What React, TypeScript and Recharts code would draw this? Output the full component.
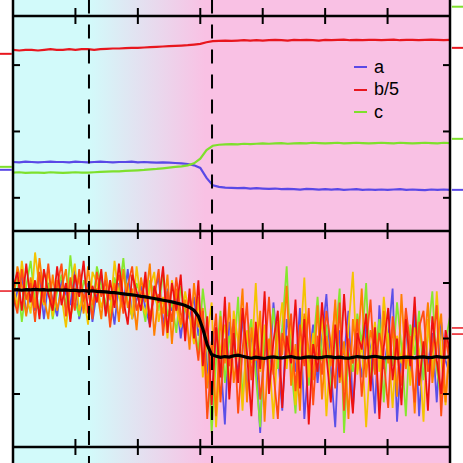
import { LineChart, Line, XAxis, YAxis, ReferenceLine, Legend } from 'recharts'

// upper panel, sampled every 0.1 on [0, 7]
const aVals = [
  0.54, 0.535, 0.545, 0.54, 0.535, 0.54, 0.545, 0.54, 0.54, 0.535,
  0.545, 0.54, 0.535, 0.54, 0.545, 0.54, 0.535, 0.54, 0.54, 0.545,
  0.535, 0.54, 0.535, 0.53, 0.535, 0.53, 0.525, 0.52, 0.51, 0.49,
  0.45, 0.3, 0.19, 0.165, 0.155, 0.15, 0.145, 0.15, 0.14, 0.145,
  0.14, 0.135, 0.14, 0.13, 0.135, 0.13, 0.125, 0.135, 0.13, 0.125,
  0.13, 0.125, 0.13, 0.12, 0.125, 0.13, 0.12, 0.125, 0.12, 0.125,
  0.12, 0.125, 0.13, 0.12, 0.125, 0.12, 0.115, 0.125, 0.12, 0.125, 0.12,
]
const bVals = [
  2.23, 2.22, 2.23, 2.23, 2.22, 2.23, 2.24, 2.23, 2.23, 2.24,
  2.23, 2.24, 2.24, 2.23, 2.24, 2.245, 2.25, 2.25, 2.255, 2.26,
  2.26, 2.265, 2.27, 2.275, 2.28, 2.285, 2.29, 2.295, 2.3, 2.31,
  2.32, 2.345, 2.36, 2.365, 2.37, 2.365, 2.37, 2.375, 2.37, 2.375,
  2.37, 2.375, 2.38, 2.375, 2.37, 2.38, 2.375, 2.38, 2.375, 2.37,
  2.38, 2.375, 2.38, 2.385, 2.375, 2.38, 2.375, 2.38, 2.38, 2.375,
  2.38, 2.385, 2.375, 2.38, 2.38, 2.375, 2.38, 2.385, 2.38, 2.375, 2.38,
]
const cVals = [
  0.38, 0.385, 0.375, 0.38, 0.38, 0.375, 0.385, 0.38, 0.375, 0.38,
  0.385, 0.38, 0.38, 0.385, 0.39, 0.395, 0.4, 0.4, 0.405, 0.41,
  0.415, 0.42, 0.43, 0.435, 0.445, 0.455, 0.465, 0.475, 0.49, 0.52,
  0.59, 0.72, 0.785, 0.8, 0.805, 0.81, 0.805, 0.815, 0.81, 0.815,
  0.82, 0.815, 0.82, 0.825, 0.815, 0.82, 0.825, 0.82, 0.83, 0.825,
  0.82, 0.825, 0.83, 0.82, 0.825, 0.83, 0.825, 0.82, 0.825, 0.83,
  0.825, 0.82, 0.83, 0.825, 0.82, 0.825, 0.83, 0.825, 0.82, 0.83, 0.825,
]

// lower panel: six runs + their mean, 100 samples on [0, 7]
const runBlue = [
  31, 37, 43, 29, 36, 30, 42, 27, 40, 34,
  28, 41, 36, 32, 45, 27, 35, 40, 26, 37,
  43, 30, 36, 25, 40, 32, 45, 27, 34, 39,
  31, 25, 37, 42, 24, 38, 30, 35, 20, 33,
  27, 35, 21, 29, 10, -4, 24, 13, -11, 26,
  18, 7, 29, 0, 21, 14, -14, 24, 5, 33,
  15, -6, 27, 19, 8, 31, -9, 12, 25, 4,
  20, 36, 9, -12, 23, 14, 30, -5, 17, 6,
  25, 16, -7, 32, 9, 20, 38, -10, 14, 24,
  6, 29, -8, 17, 10, 22, -3, 26, 12, 7,
]
const runGreen = [
  35, 42, 26, 39, 48, 33, 30, 44, 39, 27,
  37, 43, 31, 50, 34, 28, 41, 37, 30, 46,
  39, 33, 27, 42, 36, 49, 32, 28, 40, 35,
  26, 41, 36, 30, 44, 28, 33, 22, 39, 30,
  34, 26, 15, 38, 24, -14, 12, 30, 4, 21,
  13, 35, -2, 18, 27, 7, -12, 22, 16, 31,
  9, 24, 46, 11, -7, 20, 28, 3, 17, 35,
  12, 25, 0, 19, 38, -14, 15, 8, 29, 18,
  40, 4, 13, 27, -3, 22, 10, 33, 17, -8,
  25, 14, 30, 5, 21, 37, 9, -2, 19, 28,
]
const runGold = [
  40, 31, 48, 36, 29, 51, 38, 32, 45, 28,
  41, 35, 24, 39, 47, 30, 36, 25, 44, 40,
  31, 38, 29, 48, 35, 30, 40, 27, 46, 33,
  29, 38, 44, 26, 35, 20, 41, 31, 24, 37,
  28, 18, 35, 6, 21, 33, -12, 16, 25, 2,
  30, 19, -6, 23, 11, 40, 8, 25, 14, -9,
  20, 33, 9, 27, -4, 15, 42, 6, 22, 12,
  28, -8, 17, 31, 10, 1, 24, 44, 7, 19,
  -12, 14, 26, 8, 35, 18, -5, 21, 11, 30,
  3, 24, 16, -10, 27, 8, 37, 13, -4, 22,
]
const runOrange = [
  33, 46, 39, 28, 42, 31, 49, 35, 27, 43,
  30, 38, 45, 27, 36, 42, 29, 46, 32, 38,
  27, 44, 34, 40, 26, 45, 31, 38, 23, 42,
  33, 47, 21, 36, 29, 43, 18, 38, 25, 34,
  16, 40, 24, 31, 2, 19, -8, 28, 11, 33,
  4, 17, 38, -3, 24, 12, 30, -10, 20, 7,
  26, 14, 39, 3, 18, -6, 29, 16, 5, 32,
  -2, 21, 10, 34, 4, 19, -9, 27, 13, 38,
  6, 23, 15, -5, 30, 11, 24, -1, 36, 9,
  21, -7, 26, 14, 33, 4, 18, 29, -3, 20,
]
const runVermilion = [
  36, 29, 45, 34, 40, 26, 44, 33, 47, 31,
  39, 47, 28, 42, 30, 45, 34, 38, 27, 44,
  35, 41, 24, 37, 43, 29, 39, 46, 30, 36,
  40, 28, 35, 45, 21, 37, 26, 42, 29, 23,
  36, 25, 12, 30, -9, 14, 29, -3, 20, 10,
  27, -7, 16, 33, 5, 24, -2, 13, 35, 8,
  -9, 22, 14, 29, 1, 25, 10, 31, -4, 21,
  7, 30, 18, 2, 33, -6, 20, 11, 27, -1,
  18, 34, 7, 22, 12, -5, 28, 15, 3, 31,
  17, -3, 24, 30, 8, 16, 32, -8, 20, 11,
]
const runRed = [
  38, 44, 30, 47, 33, 41, 27, 45, 36, 30,
  46, 32, 40, 26, 43, 35, 48, 29, 39, 33,
  45, 28, 41, 31, 47, 34, 25, 43, 37, 30,
  44, 24, 39, 33, 46, 22, 40, 30, 43, 19,
  38, 20, 41, 10, 28, -4, 24, 6, 35, -2,
  22, 4, 31, 15, -8, 26, 9, 37, 0, 19,
  30, -5, 21, 11, 34, 2, 27, -11, 18, 8,
  33, 14, -3, 25, 6, 36, 12, -7, 22, 16,
  29, 1, 24, -9, 17, 31, 5, 20, -4, 27,
  10, 35, 3, 19, -6, 28, 12, 0, 23, 15,
]
const runMean = [
  37.5, 37.6, 37.4, 37.6, 37.5, 37.7, 37.5, 37.6, 37.4, 37.5,
  37.5, 37.4, 37.5, 37.3, 37.4, 37.2, 37.3, 37.1, 37.2, 37.0,
  36.9, 36.8, 36.6, 36.5, 36.3, 36.1, 35.9, 35.7, 35.5, 35.2,
  35.0, 34.7, 34.4, 34.1, 33.8, 33.5, 33.2, 32.8, 32.4, 31.9,
  31.2, 30.2, 28.0, 23.5, 17.8, 14.2, 13.6, 13.2, 13.5, 13.3,
  13.8, 14.0, 13.6, 13.2, 12.9, 13.3, 13.0, 12.8, 13.2, 13.4,
  13.1, 13.0, 13.3, 13.5, 13.1, 12.9, 13.2, 13.4, 13.3, 13.0,
  13.2, 13.5, 13.4, 13.1, 13.3, 13.0, 12.9, 13.2, 13.5, 13.3,
  13.1, 13.4, 13.6, 13.3, 13.0, 13.2, 13.1, 12.9, 13.1, 13.3,
  13.2, 13.0, 13.3, 13.4, 13.1, 13.2, 13.5, 13.3, 13.2, 13.4,
]

const xTicks = [1, 2, 3, 4, 5, 6]
const upperTicks = [0, 1, 2]
const lowerTicks = [0, 20, 40]
const guides = [1.217, 3.188]

// bits of neighbouring panels' curves poking in at the edges
const upperStubsLeft = [2.17, 0.467, 0.422]
const upperStubsRight = [2.26, 0.889, 0.12, 2.88]
const lowerStubsLeft = [37.1]
const lowerStubsRight = [23.8, 21.6]

const BLUE = '#5a48e6'
const RED = '#e8161e'
const GREEN = '#7ee02c'

const upperRows = aVals.map((a, i) => ({ x: i * 0.1, a, b: bVals[i], c: cVals[i] }))
const lowerRows = runMean.map((m, i) => ({
  x: (i * 7) / 99,
  blue: runBlue[i],
  green: runGreen[i],
  gold: runGold[i],
  orange: runOrange[i],
  vermilion: runVermilion[i],
  red: runRed[i],
  mean: m,
}))

const runs = [
  { key: 'blue', color: '#5b50e8' },
  { key: 'green', color: '#86e82e' },
  { key: 'gold', color: '#f4c400' },
  { key: 'orange', color: '#ff7f00' },
  { key: 'vermilion', color: '#ff4d12' },
  { key: 'red', color: '#ee1111' },
]

const crossTick = (p: any) => (
  <line x1={p.x} x2={p.x} y1={p.y - 8} y2={p.y + 8} stroke="#000" strokeWidth={2} />
)
const leftTick = (p: any) => (
  <line x1={p.x} x2={p.x + 7} y1={p.y} y2={p.y} stroke="#000" strokeWidth={2} />
)
const rightTick = (p: any) => (
  <line x1={p.x - 7} x2={p.x} y1={p.y} y2={p.y} stroke="#000" strokeWidth={2} />
)

const axisLine = { stroke: '#000', strokeWidth: 2.5 }

const renderLegend = (props: any) => (
  <div style={{ fontFamily: '"Liberation Sans", Arial, sans-serif', fontSize: 18, color: '#000' }}>
    {props.payload.map((p: any) => (
      <div key={p.value} style={{ display: 'flex', alignItems: 'center', height: 22.5 }}>
        <span style={{ display: 'inline-block', width: 13, height: 2, background: p.color, marginRight: 7 }} />
        {p.value}
      </div>
    ))}
  </div>
)

export default function App() {
  return (
    <div style={{ position: 'absolute', left: 0, top: 0, width: 463, height: 463, background: '#fff' }}>
      <div
        style={{
          position: 'absolute',
          left: 13,
          top: 0,
          width: 437,
          height: 463,
          background: 'linear-gradient(to right, #d2fafa 0px, #d2fafa 76px, #f9c1e4 192px, #f9c1e4 100%)',
        }}
      />

      <div style={{ position: 'absolute', left: 0, top: 0 }}>
        <LineChart width={463} height={240} data={upperRows} margin={{ top: 0, right: 0, bottom: 0, left: 0 }}>
          <XAxis xAxisId="top" orientation="top" type="number" dataKey="x" domain={[0, 7]} allowDataOverflow
            ticks={xTicks} interval={0} height={16} tickSize={0} tickMargin={0} tickLine={false}
            axisLine={axisLine} tick={crossTick} />
          <XAxis xAxisId="bottom" orientation="bottom" type="number" dataKey="x" domain={[0, 7]} allowDataOverflow
            ticks={xTicks} interval={0} height={9} tickSize={0} tickMargin={0} tickLine={false}
            axisLine={axisLine} tick={crossTick} />
          <YAxis yAxisId="left" orientation="left" type="number" domain={[-0.5, 2.74]} allowDataOverflow
            ticks={upperTicks} interval={0} width={13} tickSize={0} tickMargin={0} tickLine={false}
            axisLine={axisLine} tick={leftTick} />
          <YAxis yAxisId="right" orientation="right" type="number" domain={[-0.5, 2.74]} allowDataOverflow
            ticks={upperTicks} interval={0} width={13} tickSize={0} tickMargin={0} tickLine={false}
            axisLine={axisLine} tick={rightTick} />

          <Line xAxisId="bottom" yAxisId="left" type="linear" dataKey="a" name="a" stroke={BLUE}
            strokeWidth={2.2} dot={false} isAnimationActive={false} />
          <Line xAxisId="bottom" yAxisId="left" type="linear" dataKey="b" name="b/5" stroke={RED}
            strokeWidth={2.2} dot={false} isAnimationActive={false} />
          <Line xAxisId="bottom" yAxisId="left" type="linear" dataKey="c" name="c" stroke={GREEN}
            strokeWidth={2.2} dot={false} isAnimationActive={false} />

          {guides.map((g) => (
            <ReferenceLine key={g} xAxisId="bottom" yAxisId="left" ifOverflow="visible"
              segment={[{ x: g, y: 2.99 }, { x: g, y: -0.5 }]}
              stroke="#000" strokeWidth={2} strokeDasharray="14 11" />
          ))}
          {[0, 7].map((e) => (
            <ReferenceLine key={'f' + e} xAxisId="bottom" yAxisId="left" ifOverflow="visible"
              segment={[{ x: e, y: 2.99 }, { x: e, y: 2.74 }]} stroke="#000" strokeWidth={2.5} />
          ))}
          {upperStubsLeft.map((v, i) => (
            <ReferenceLine key={'l' + i} xAxisId="bottom" yAxisId="left" ifOverflow="visible"
              segment={[{ x: -0.21, y: v }, { x: -0.02, y: v }]}
              stroke={[RED, GREEN, BLUE][i]} strokeWidth={2} />
          ))}
          {upperStubsRight.map((v, i) => (
            <ReferenceLine key={'r' + i} xAxisId="bottom" yAxisId="left" ifOverflow="visible"
              segment={[{ x: 7.03, y: v }, { x: 7.21, y: v }]}
              stroke={[RED, GREEN, BLUE, GREEN][i]} strokeWidth={2} />
          ))}

          <Legend layout="vertical" align="center" verticalAlign="middle"
            wrapperStyle={{ left: 354, top: 56, width: 'auto' }} content={renderLegend} />
        </LineChart>
      </div>

      <div style={{ position: 'absolute', left: 0, top: 223 }}>
        <LineChart width={463} height={240} data={lowerRows} margin={{ top: 8, right: 0, bottom: 0, left: 0 }}>
          <XAxis xAxisId="bottom" orientation="bottom" type="number" dataKey="x" domain={[0, 7]} allowDataOverflow
            ticks={xTicks} interval={0} height={16} tickSize={0} tickMargin={0} tickLine={false}
            axisLine={axisLine} tick={crossTick} />
          <YAxis yAxisId="left" orientation="left" type="number" domain={[-19.1, 58.74]} allowDataOverflow
            ticks={lowerTicks} interval={0} width={13} tickSize={0} tickMargin={0} tickLine={false}
            axisLine={axisLine} tick={leftTick} />
          <YAxis yAxisId="right" orientation="right" type="number" domain={[-19.1, 58.74]} allowDataOverflow
            ticks={lowerTicks} interval={0} width={13} tickSize={0} tickMargin={0} tickLine={false}
            axisLine={axisLine} tick={rightTick} />

          {runs.map((r) => (
            <Line key={r.key} xAxisId="bottom" yAxisId="left" type="linear" dataKey={r.key} stroke={r.color}
              strokeWidth={1.8} dot={false} isAnimationActive={false} />
          ))}
          <Line xAxisId="bottom" yAxisId="left" type="linear" dataKey="mean" stroke="#000"
            strokeWidth={3.2} dot={false} isAnimationActive={false} />

          {guides.map((g) => (
            <ReferenceLine key={g} xAxisId="bottom" yAxisId="left" ifOverflow="visible"
              segment={[{ x: g, y: 58.74 }, { x: g, y: -25 }]}
              stroke="#000" strokeWidth={2} strokeDasharray="14 11" />
          ))}
          {[0, 7].map((e) => (
            <ReferenceLine key={'f' + e} xAxisId="bottom" yAxisId="left" ifOverflow="visible"
              segment={[{ x: e, y: -19.1 }, { x: e, y: -25 }]} stroke="#000" strokeWidth={2.5} />
          ))}
          {lowerStubsLeft.map((v, i) => (
            <ReferenceLine key={'l' + i} xAxisId="bottom" yAxisId="left" ifOverflow="visible"
              segment={[{ x: -0.21, y: v }, { x: -0.02, y: v }]} stroke={RED} strokeWidth={1.5} />
          ))}
          {lowerStubsRight.map((v, i) => (
            <ReferenceLine key={'r' + i} xAxisId="bottom" yAxisId="left" ifOverflow="visible"
              segment={[{ x: 7.03, y: v }, { x: 7.21, y: v }]} stroke={RED} strokeWidth={1.5} />
          ))}
        </LineChart>
      </div>
    </div>
  )
}
